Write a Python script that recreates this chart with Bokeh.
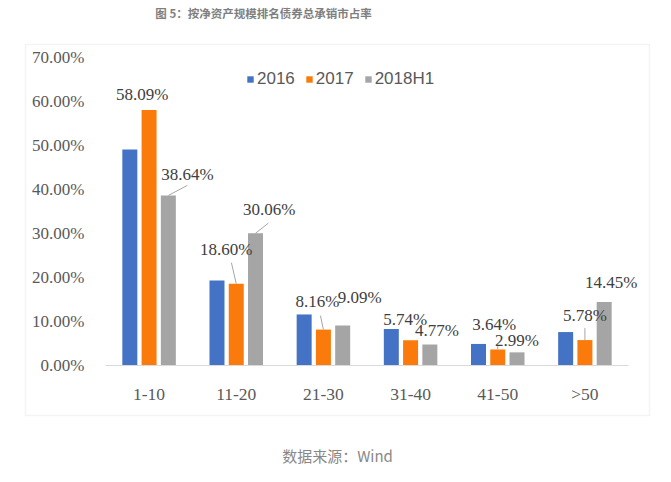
from bokeh.plotting import figure
from bokeh.models import (ColumnDataSource, Range1d, Label, Legend, LegendItem, LinearAxis,
                          PrintfTickFormatter, FixedTicker, BoxAnnotation)
from bokeh.transform import dodge
from bokeh.embed import file_html
from bokeh.resources import INLINE
from bokeh.core.properties import value

# ---------------- data ----------------
categories = ["1-10", "11-20", "21-30", "31-40", "41-50", ">50"]
series_names = ["2016", "2017", "2018H1"]
share_2016 = [49.1, 19.3, 11.6, 8.3, 4.9, 7.6]
share_2017 = [58.09, 18.60, 8.16, 5.74, 3.64, 5.78]
share_2018h1 = [38.64, 30.06, 9.09, 4.77, 2.99, 14.45]
y_ticks = [0, 10, 20, 30, 40, 50, 60, 70]
title_text = "图 5：按净资产规模排名债券总承销市占率"
source_text = "数据来源：Wind"

# ---------------- layout (pixels) ----------------
W, H = 671, 482
PL, PR, PT, PB = 105, 628, 57, 365      # plot area edges on the page
Y_MAX = 70
x_scale = (PR - PL) / len(categories)
y_scale = (PB - PT) / Y_MAX

# ---------------- styling / label placement (pixels) ----------------
colors = ["#4472C4", "#FA7B0C", "#A5A5A5"]
offsets = [-0.221, 0.0, 0.221]
bar_width = 0.172
SERIF = "'Liberation Serif'"
lab17_dx = [-7, -10, -6, -5.5, -3.5, 0]
lab17_dy = [-15, -34, -28, -21, -25, -25]
lab18_dx = [19, 13.7, 17, 7, 0, 7]
lab18_dy = [-21, -24, -28, -14, -12, -19]
lead17 = [None, (21.5, 103), (14.3, 102), None, (4.5, 90), (12, 90)]
lead18 = [(21.5, 28), (16.4, 38), None, None, None, None]

x_range = Range1d(-PL / x_scale, (W - PL) / x_scale)
y_range = Range1d(-(H - PB) / y_scale, Y_MAX + PT / y_scale)

p = figure(width=W, height=H, output_backend="svg", toolbar_location=None,
           x_range=x_range, y_range=y_range, x_axis_location=None, y_axis_location=None,
           min_border=0)
p.outline_line_color = None
p.grid.visible = False
p.background_fill_color = "white"
p.border_fill_color = "white"

xc = [i + 0.5 for i in range(len(categories))]
src = ColumnDataSource(dict(xc=xc, cat=categories, s2016=share_2016, s2017=share_2017, s2018=share_2018h1))
renderers = []
for key, off, col in zip(["s2016", "s2017", "s2018"], offsets, colors):
    r = p.vbar(x=dodge("xc", off), top=key, width=bar_width,
               fill_color=col, line_color=None, source=src)
    renderers.append(r)

# leader lines
for vals, leads, off in [(share_2017, lead17, offsets[1]), (share_2018h1, lead18, offsets[2])]:
    c, v, ln, an = [], [], [], []
    for x0, val, ld in zip(xc, vals, leads):
        if ld is not None:
            c.append(x0); v.append(val); ln.append(ld[0]); an.append(ld[1])
    if c:
        ls = ColumnDataSource(dict(xc=c, val=v, length=ln, angle=an))
        p.ray(x=dodge("xc", off), y="val", length="length", angle="angle",
              length_units="screen", angle_units="deg", line_color="#A6A6A6", line_width=1, source=ls)

# data labels
for vals, dxs, dys, off in [(share_2017, lab17_dx, lab17_dy, offsets[1]),
                            (share_2018h1, lab18_dx, lab18_dy, offsets[2])]:
    ts = ColumnDataSource(dict(xc=xc, val=vals, txt=[f"{v:.2f}%" for v in vals], dx=dxs, dy=dys))
    p.text(x=dodge("xc", off), y="val", text="txt", x_offset="dx", y_offset="dy",
           text_align="center", text_baseline="middle", text_font=value(SERIF),
           text_font_size="17px", text_color="#404040", source=ts)

# axes
yaxis = LinearAxis(fixed_location=0, bounds=(0, Y_MAX), ticker=FixedTicker(ticks=y_ticks),
                   formatter=PrintfTickFormatter(format="%.2f%%"))
yaxis.axis_line_color = None
yaxis.major_tick_line_color = None
yaxis.minor_tick_line_color = None
yaxis.major_label_standoff = 15
yaxis.major_label_text_font = SERIF
yaxis.major_label_text_font_size = "17px"
yaxis.major_label_text_color = "#595959"
p.add_layout(yaxis, "left")

xaxis = LinearAxis(fixed_location=0, bounds=(0, len(categories)), ticker=FixedTicker(ticks=xc),
                   major_label_overrides={x: c for x, c in zip(xc, categories)})
xaxis.axis_line_color = "#D9D9D9"
xaxis.axis_line_width = 1
xaxis.major_tick_line_color = None
xaxis.minor_tick_line_color = None
xaxis.major_label_standoff = 12
xaxis.major_label_text_font = SERIF
xaxis.major_label_text_font_size = "17.5px"
xaxis.major_label_text_color = "#595959"
p.add_layout(xaxis, "below")

# legend
legend = Legend(items=[LegendItem(label=n, renderers=[r]) for n, r in zip(series_names, renderers)],
                orientation="horizontal", location=(246, 393), glyph_width=8, glyph_height=8,
                label_standoff=3, spacing=10, padding=0, margin=0, border_line_color=None,
                background_fill_alpha=0, label_text_font="'Liberation Sans'",
                label_text_font_size="17px", label_text_color="#595959")
p.add_layout(legend)

# chart border (page pixels, y measured from the bottom)
p.add_layout(BoxAnnotation(left=25, right=649, top=H - 44, bottom=H - 415,
                           left_units="screen", right_units="screen", top_units="screen",
                           bottom_units="screen", fill_alpha=0, line_color="#D9D9D9", line_width=1.5))

# title and source note
p.add_layout(Label(x=263, y=H - 12, x_units="screen", y_units="screen", text=title_text,
                   text_align="center", text_baseline="middle", text_font="'Noto Sans CJK SC'",
                   text_font_style="bold", text_font_size="11.5px", text_color="#7F7F7F"))
p.add_layout(Label(x=337, y=H - 455, x_units="screen", y_units="screen", text=source_text,
                   text_align="center", text_baseline="middle", text_font="'Noto Sans CJK SC'",
                   text_font_size="15px", text_color="#888888"))

open("out.html", "w").write(file_html(p, INLINE))
